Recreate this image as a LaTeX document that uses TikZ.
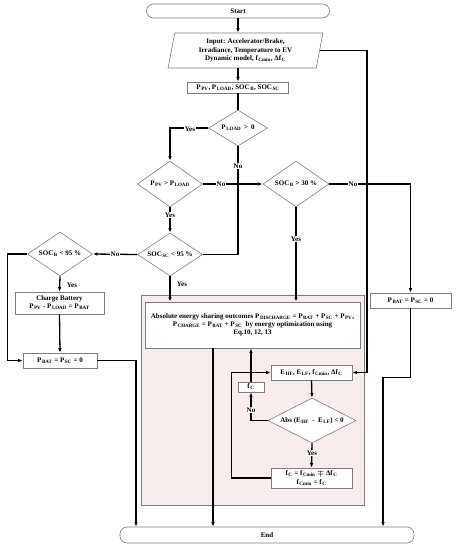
\documentclass[tikz,border=0pt]{standalone}
\usepackage{fontspec}
\setmainfont{Liberation Serif}
\usetikzlibrary{shapes.geometric,arrows.meta,calc}
\newcommand\sbs[1]{\kern0.6pt\textsubscript{#1}}
\newcommand\zb[1]{\makebox[0pt]{#1}}
\definecolor{pinkbg}{RGB}{248,237,237}
\definecolor{bord}{RGB}{125,125,125}
\begin{document}
\begin{tikzpicture}[x=1pt,y=-1pt,
  font=\bfseries\fontsize{7}{8.2}\selectfont,
  box/.style={draw=bord, line width=0.6pt, fill=white, inner sep=0pt, align=center},
  term/.style={draw=bord, line width=0.6pt, fill=white, rounded corners=7pt, inner sep=0pt},
  dia/.style={diamond, draw=bord, line width=0.6pt, fill=white, inner sep=0pt},
  arr/.style={line width=1.3pt, -{Latex[length=4.5pt,width=3.4pt]}},
  ln/.style={line width=1.3pt},
  lbl/.style={fill=white, inner sep=1pt}]
\useasboundingbox (0,0) rectangle (458,550);

% group background
\node[draw=bord, line width=0.6pt, fill=pinkbg, minimum width=223pt, minimum height=210pt, inner sep=0pt] (grp) at (252.5,400) {};

% nodes
\node[term, minimum width=183pt, minimum height=14pt] (start) at (238,11) {Start};
\node[trapezium, trapezium left angle=79, trapezium right angle=101, trapezium stretches=true,
      draw=bord, line width=0.6pt, fill=white, inner sep=0pt, align=center,
      minimum width=155pt, minimum height=35pt] (inp) at (245.5,50.5)
      {Input: Accelerator/Brake,\\ Irradiance, Temperature to EV\\ Dynamic model, f\sbs{Cmin}, Δf\sbs{C}};
\node[box, minimum width=101pt, minimum height=11pt] (ppv) at (238,87.5) {P\sbs{PV}, P\sbs{LOAD}, SOC\sbs{B}, SOC\sbs{SC}};
\node[dia, minimum width=59pt, minimum height=36pt] (d1) at (238,128) {\zb{P\sbs{LOAD} \,>\, 0}};
\node[dia, minimum width=65pt, minimum height=46pt] (d2) at (170,184) {\zb{P\sbs{PV} > P\sbs{LOAD}}};
\node[dia, minimum width=66pt, minimum height=46pt] (d3) at (296,184) {\zb{SOC\sbs{B} > 30 \%}};
\node[dia, minimum width=65pt, minimum height=43pt] (d4) at (170,254.5) {\zb{SOC\sbs{SC} < 95 \%}};
\node[dia, minimum width=65pt, minimum height=44pt] (d5) at (60,254) {\zb{SOC\sbs{B} < 95 \%}};
\node[box, minimum width=89pt, minimum height=22pt] (chg) at (59.5,303) {Charge Battery\\ P\sbs{PV} - P\sbs{LOAD} = P\sbs{BAT}};
\node[box, minimum width=74pt, minimum height=15pt] (pz1) at (60,360.5) {P\sbs{BAT} = P\sbs{SC} = 0};
\node[box, minimum width=81pt, minimum height=15pt] (pz2) at (410.5,300.5) {P\sbs{BAT} = P\sbs{SC} = 0};
\node[box, minimum width=215pt, minimum height=46pt] (abs) at (252.5,325)
  {Absolute energy sharing outcomes P\sbs{DISCHARGE} = P\sbs{BAT} + P\sbs{SC} + P\sbs{PV},\\
   P\sbs{CHARGE} = P\sbs{BAT} + P\sbs{SC}\ \ by energy optimization using\\ Eq.10, 12, 13};
\node[box, minimum width=81pt, minimum height=15pt] (ehf) at (311.5,372.5) {E\sbs{HF}, E\sbs{LF}, f\sbs{Cmin}, Δf\sbs{C}};
\node[box, minimum width=26pt, minimum height=10pt] (fc) at (251,387) {f\sbs{C}};
\node[dia, minimum width=88pt, minimum height=45pt] (d6) at (312,420.5) {\zb{Abs (E\sbs{HF}\ \ -\ \ E\sbs{LF}) < 0}};
\node[box, minimum width=81pt, minimum height=20pt] (upd) at (311.5,478) {f\sbs{C} = f\sbs{Cmin} {\boldmath$\mp$} Δf\sbs{C}\\ f\sbs{Cmin} = f\sbs{C}};
\node[term, minimum width=294pt, minimum height=16pt] (end) at (267,535) {End};

% helper coordinates
\coordinate (jn) at (238,184);
\coordinate (rx) at (367,0);
\coordinate (xl) at (136,0);
\coordinate (xm) at (213,0);
\coordinate (xr) at (383,0);

% connectors
\draw[arr] (start.south) -- (start.south |- inp.north);
\draw[arr] (ppv |- inp.south) -- (ppv.north);
\draw[ln] (ppv.south) -- (d1.north);
\draw[arr] (d1.west) -| (d2.north);
\draw[ln] (d1.south) -- (jn);
\draw[ln] (d4.east) -| (jn);
\draw[arr] (d2.east) -- (d3.west);
\draw[arr] (d3.east) -| (pz2.north);
\draw[arr] (inp.east) -| (rx |- ehf.east) -- (ehf.east);
\draw[arr] (d3.south) -- (d3.south |- abs.north);
\draw[arr] (d2.south) -- (d4.north);
\draw[arr] (d4.west) -- (d5.east);
\draw[arr] (d4.south) -- (d4.south |- abs.north);
\draw[arr] (d5.south) -- (chg.north);
\draw[arr] (chg.south) -- (pz1.north);
\draw[arr] (d5.west) -- ++(-20,0) |- (pz1.west);
\draw[arr] (pz1.east) -| (xl |- end.north);
\draw[arr] (abs.south -| xm) -- (xm |- end.north);
\draw[arr] (fc.north) -- (fc.north |- abs.south);
\draw[arr] (ehf.south) -- (d6.north);
\draw[arr] (d6.west) -| (fc.south);
\draw[arr] (d6.south) -- (upd.north);
\draw[arr] (upd.west) -- ++(-39.5,0) |- (ehf.west);
\draw[arr] (pz2.south) -- ++(0,69) -| (xr |- end.north);

% labels
\node[lbl] (l1) at (190,129) {Yes};
\node[lbl] (l2) at (238,166) {No};
\node[lbl] (l3) at (221,184) {No};
\node[lbl] (l4) at (353,184) {No};
\node[lbl] (l5) at (170,215) {Yes};
\node[lbl] (l6) at (296,239) {Yes};
\node[lbl] (l7) at (115,254) {No};
\node[lbl, fill=none] (l8) at (182,284) {Yes};
\node[lbl, fill=none] (l9) at (72,285) {Yes};
\node[lbl] (l10) at (251,410) {No};
\node[lbl] (l11) at (312,453) {Yes};
\end{tikzpicture}
\end{document}
